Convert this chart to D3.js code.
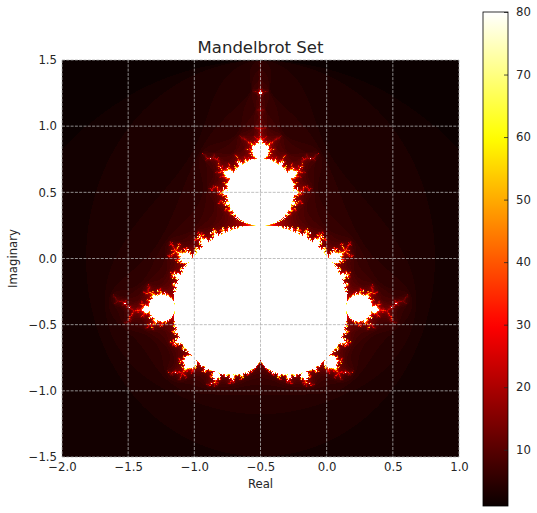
<!DOCTYPE html>
<html>
<head>
<meta charset="utf-8">
<script src="https://cdn.jsdelivr.net/npm/d3@7"></script>
<style>
  body { margin: 0; background: #fff; }
  text { font-family: "DejaVu Sans", sans-serif; fill: #262626; }
</style>
</head>
<body>
<svg id="chart" width="537" height="513"></svg>
<script>
// Grid the set was computed on (rows walk the real axis, columns the imaginary one,
// the array was shown transposed so the picture is turned by 90 degrees)
const realRange = [-2, 1];
const imagRange = [-1.5, 1.5];
const gridSize = 400;
const maxIter = 80;

// Axis extent and tick labels as drawn
const xExtent = [-2, 1];
const yExtent = [-1.5, 1.5];
const xTicks = [-2, -1.5, -1, -0.5, 0, 0.5, 1];
const yTicks = [-1.5, -1, -0.5, 0, 0.5, 1, 1.5];
const colorDomain = [1, 80];
const colorTicks = [10, 20, 30, 40, 50, 60, 70, 80];

// matplotlib "hot" colormap break points
const hotRed = [[0, 0.0416], [0.365079, 1], [1, 1]];
const hotGreen = [[0, 0], [0.365079, 0], [0.746032, 1], [1, 1]];
const hotBlue = [[0, 0], [0.746032, 0], [1, 1]];

const plot = { left: 62, top: 60, size: 397 };
const cbar = { left: 483, top: 12, width: 25, height: 494 };

const svg = d3.select("#chart");

const x = d3.scaleLinear().domain(xExtent).range([plot.left, plot.left + plot.size]);
const y = d3.scaleLinear().domain(yExtent).range([plot.top + plot.size, plot.top]);
const c = d3.scaleLinear().domain(colorDomain).range([cbar.top + cbar.height, cbar.top]);

function channel(stops, t) {
    for (let i = 1; i < stops.length; i++) {
        if (t <= stops[i][0]) {
            const [t0, v0] = stops[i - 1], [t1, v1] = stops[i];
            return v0 + (v1 - v0) * (t - t0) / (t1 - t0);
        }
    }
    return stops[stops.length - 1][1];
}

function hot(v) {
    const t = Math.max(0, Math.min(1, (v - colorDomain[0]) / (colorDomain[1] - colorDomain[0])));
    return [channel(hotRed, t), channel(hotGreen, t), channel(hotBlue, t)].map(d => Math.round(d * 255));
}

function escapeCount(cr, ci) {
    let zr = 0, zi = 0;
    for (let n = 0; n < maxIter; n++) {
        if (zr * zr + zi * zi > 4) return n;
        const t = zr * zr - zi * zi + cr;
        zi = 2 * zr * zi + ci;
        zr = t;
    }
    return maxIter;
}

// compute the grid
const reVals = d3.range(gridSize).map(i => realRange[0] + (realRange[1] - realRange[0]) * i / (gridSize - 1));
const imVals = d3.range(gridSize).map(j => imagRange[0] + (imagRange[1] - imagRange[0]) * j / (gridSize - 1));

const canvas = document.createElement("canvas");
canvas.width = gridSize;
canvas.height = gridSize;
const ctx = canvas.getContext("2d");
const img = ctx.createImageData(gridSize, gridSize);
reVals.forEach((re, row) => {
    imVals.forEach((im, col) => {
        const [r, g, b] = hot(escapeCount(re, im));
        const k = (row * gridSize + col) * 4;
        img.data[k] = r; img.data[k + 1] = g; img.data[k + 2] = b; img.data[k + 3] = 255;
    });
});
ctx.putImageData(img, 0, 0);

svg.append("image")
    .attr("x", plot.left).attr("y", plot.top)
    .attr("width", plot.size).attr("height", plot.size)
    .attr("preserveAspectRatio", "none")
    .style("image-rendering", "pixelated")
    .attr("href", canvas.toDataURL());

// dashed grid on top of the image
const grid = svg.append("g")
    .attr("stroke", "#b0b0b0")
    .attr("stroke-width", 0.8)
    .attr("stroke-dasharray", "3,1.3");

grid.selectAll(".vx").data(xTicks).join("line")
    .attr("x1", d => x(d)).attr("x2", d => x(d))
    .attr("y1", plot.top).attr("y2", plot.top + plot.size);

grid.selectAll(".hy").data(yTicks).join("line")
    .attr("y1", d => y(d)).attr("y2", d => y(d))
    .attr("x1", plot.left).attr("x2", plot.left + plot.size);

const fmt = d3.format(".1f");

// axes, drawn without lines
const xAxis = svg.append("g")
    .attr("transform", `translate(0,${plot.top + plot.size})`)
    .call(d3.axisBottom(x).tickValues(xTicks).tickFormat(fmt).tickSize(0).tickPadding(6));
const yAxis = svg.append("g")
    .attr("transform", `translate(${plot.left},0)`)
    .call(d3.axisLeft(y).tickValues(yTicks).tickFormat(fmt).tickSize(0).tickPadding(5));

[xAxis, yAxis].forEach(a => {
    a.select(".domain").remove();
    a.selectAll("text").attr("font-size", 11.7).attr("font-family", "DejaVu Sans").attr("fill", "#262626");
});

svg.append("text")
    .attr("x", x(-0.5)).attr("y", 488)
    .attr("text-anchor", "middle").attr("font-size", 11.7)
    .text("Real");

svg.append("text")
    .attr("transform", `translate(17,${y(0)}) rotate(-90)`)
    .attr("text-anchor", "middle").attr("font-size", 11.7)
    .text("Imaginary");

svg.append("text")
    .attr("x", x(-0.5)).attr("y", 53)
    .attr("text-anchor", "middle").attr("font-size", 16.5)
    .text("Mandelbrot Set");

// colorbar
const defs = svg.append("defs");
const grad = defs.append("linearGradient")
    .attr("id", "hot-grad")
    .attr("x1", 0).attr("y1", 1).attr("x2", 0).attr("y2", 0);
d3.range(0, 1.0001, 0.02).forEach(t => {
    const [r, g, b] = hot(colorDomain[0] + t * (colorDomain[1] - colorDomain[0]));
    grad.append("stop").attr("offset", t).attr("stop-color", `rgb(${r},${g},${b})`);
});

svg.append("rect")
    .attr("x", cbar.left).attr("y", cbar.top)
    .attr("width", cbar.width).attr("height", cbar.height)
    .attr("fill", "url(#hot-grad)");

const cAxis = svg.append("g")
    .attr("transform", `translate(${cbar.left + cbar.width},0)`)
    .call(d3.axisRight(c).tickValues(colorTicks).tickFormat(d3.format("d")).tickSizeInner(-4).tickSizeOuter(0).tickPadding(8));
cAxis.select(".domain").remove();
cAxis.selectAll("line").attr("stroke", "#262626").attr("stroke-width", 0.8);
cAxis.selectAll("text").attr("font-size", 11.7).attr("font-family", "DejaVu Sans").attr("fill", "#262626");

svg.append("rect")
    .attr("x", cbar.left).attr("y", cbar.top)
    .attr("width", cbar.width).attr("height", cbar.height)
    .attr("fill", "none").attr("stroke", "#000").attr("stroke-width", 0.8);
</script>
</body>
</html>
